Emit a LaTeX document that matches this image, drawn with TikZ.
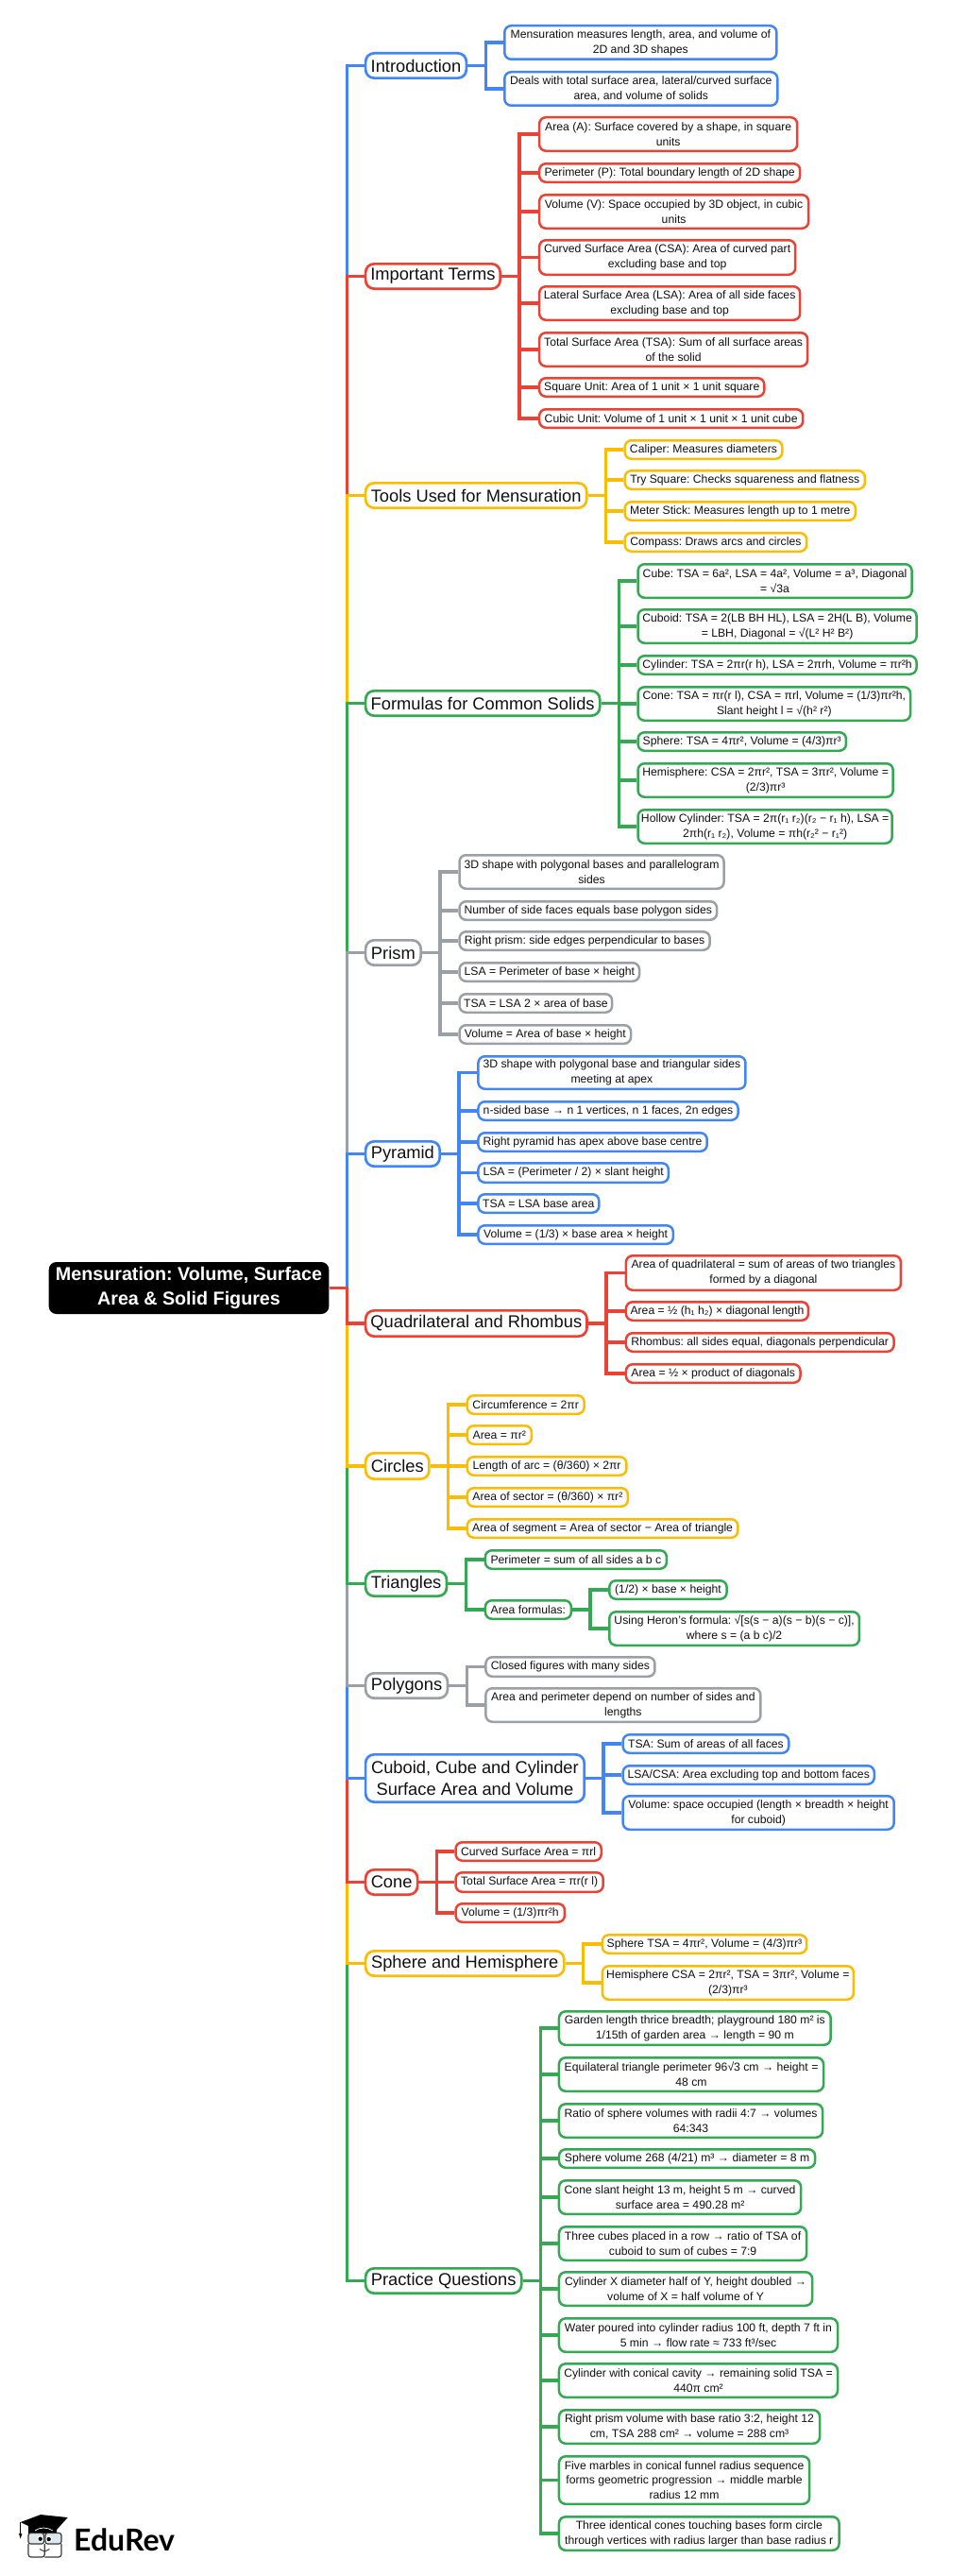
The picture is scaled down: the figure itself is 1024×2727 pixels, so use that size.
\documentclass[tikz,border=0pt]{standalone}
\usepackage{fontspec}
\setmainfont{Liberation Sans}
\newfontfamily\logofont{Lato}
\frenchspacing
\definecolor{cblue}{HTML}{4285F4}
\definecolor{cred}{HTML}{EA4335}
\definecolor{cyel}{HTML}{FBBC04}
\definecolor{cgrn}{HTML}{34A853}
\definecolor{cgry}{HTML}{9AA0A6}
\definecolor{ink}{HTML}{111111}
\definecolor{lens}{HTML}{DCE8EE}
\definecolor{logoline}{HTML}{3A3A3A}
\tikzset{
  leaf/.style={draw=#1,fill=white,line width=2.5pt,rounded corners=7pt,inner sep=0pt,align=center,text=ink,font=\fontsize{12.2}{15.8}\selectfont\frenchspacing},
  head/.style={draw=#1,fill=white,line width=2.7pt,rounded corners=9pt,inner sep=0pt,align=center,text=ink,font=\fontsize{18.3}{23.7}\selectfont\frenchspacing},
  rootbox/.style={fill=black,rounded corners=8pt,inner sep=0pt,align=center,text=white,font=\fontsize{19.7}{25.6}\selectfont\bfseries\frenchspacing},
  conn/.style={draw=#1,line width=3.4pt},
  logostroke/.style={draw=logoline,line width=1.2pt},
}
\newcommand{\lf}[7]{\node[leaf=#6,minimum width={(#4-#2)*.995-2.5},minimum height={#5-#3-2.5}] (#1) at ({340+((#2+#4)/2-340)*.995},{(#3+#5)/2}) {#7};}
\newcommand{\hd}[7]{\node[head=#6,minimum width={(#4-#2)*.995-2.7},minimum height={#5-#3-2.7}] (#1) at ({340+((#2+#4)/2-340)*.995},{(#3+#5)/2}) {#7};}
\newcommand{\lk}[3]{\draw[conn=#3] (#1.east) -- ++(19,0) |- (#2.west);}
\newcommand{\tk}[2]{\draw[conn=#2] (root.east) -- ++(19.1,0) |- (#1.west);}
\begin{document}
\begin{tikzpicture}[x=1pt,y=-1pt]
\useasboundingbox (0,0) rectangle (1024,2727);
\node[rootbox,minimum width=296.6,minimum height=55] (root) at (200,1363.5) {Mensuration: Volume, Surface\\Area \& Solid Figures};
% main branches
\hd{intro}{386}{55}{496}{84}{cblue}{Introduction}
\hd{terms}{386}{278}{532}{307}{cred}{Important Terms}
\hd{tools}{386}{510}{624}{539}{cyel}{Tools Used for Mensuration}
\hd{forms}{386}{730}{638}{759}{cgrn}{Formulas for Common Solids}
\hd{prism}{386}{994}{447.5}{1023}{cgry}{Prism}
\hd{pyr}{386}{1207}{467.6}{1236}{cblue}{Pyramid}
\hd{quad}{386}{1386}{624.3}{1416}{cred}{Quadrilateral and Rhombus}
\hd{circ}{386}{1537}{456.3}{1567}{cyel}{Circles}
\hd{tri}{386}{1662}{475}{1691}{cgrn}{Triangles}
\hd{poly}{386}{1770}{476}{1799}{cgry}{Polygons}
\hd{cub}{386}{1856}{621.5}{1909}{cblue}{Cuboid, Cube and Cylinder\\Surface Area and Volume}
\hd{cone}{386}{1978}{444}{2007}{cred}{Cone}
\hd{sph}{386}{2064}{600}{2093}{cyel}{Sphere and Hemisphere}
\hd{prac}{386}{2400}{554.6}{2429}{cgrn}{Practice Questions}
% trunk
\tk{intro}{cblue}\tk{terms}{cred}\tk{tools}{cyel}\tk{forms}{cgrn}\tk{prism}{cgry}\tk{pyr}{cblue}
\tk{prac}{cgrn}\tk{sph}{cyel}\tk{cone}{cred}\tk{cub}{cblue}\tk{poly}{cgry}\tk{tri}{cgrn}\tk{circ}{cyel}\tk{quad}{cred}
% Introduction
\lf{i1}{534}{26}{826}{64}{cblue}{Mensuration measures length, area, and volume of\\2D and 3D shapes}
\lf{i2}{534}{75}{827}{113}{cblue}{Deals with total surface area, lateral/curved surface\\area, and volume of solids}
\lk{intro}{i1}{cblue}\lk{intro}{i2}{cblue}
% Terms
\lf{t1}{571}{123}{848}{161}{cred}{Area (A): Surface covered by a shape, in square\\units}
\lf{t2}{571}{172}{851}{194}{cred}{Perimeter (P): Total boundary length of 2D shape}
\lf{t3}{571}{205}{860}{243}{cred}{Volume (V): Space occupied by 3D object, in cubic\\units}
\lf{t4}{571}{253}{846}{292}{cred}{Curved Surface Area (CSA): Area of curved part\\excluding base and top}
\lf{t5}{571}{302}{851}{340}{cred}{Lateral Surface Area (LSA): Area of all side faces\\excluding base and top}
\lf{t6}{571}{351}{859}{389}{cred}{Total Surface Area (TSA): Sum of all surface areas\\of the solid}
\lf{t7}{571}{399}{813}{421}{cred}{Square Unit: Area of 1 unit × 1 unit square}
\lf{t8}{571}{432}{854}{454}{cred}{Cubic Unit: Volume of 1 unit × 1 unit × 1 unit cube}
\lk{terms}{t1}{cred}\lk{terms}{t2}{cred}\lk{terms}{t3}{cred}\lk{terms}{t4}{cred}\lk{terms}{t5}{cred}\lk{terms}{t6}{cred}\lk{terms}{t7}{cred}\lk{terms}{t8}{cred}
% Tools
\lf{u1}{662}{465}{832}{487}{cyel}{Caliper: Measures diameters}
\lf{u2}{662}{497}{920}{519}{cyel}{Try Square: Checks squareness and flatness}
\lf{u3}{662}{530}{910}{552}{cyel}{Meter Stick: Measures length up to 1 metre}
\lf{u4}{662}{563}{858}{585}{cyel}{Compass: Draws arcs and circles}
\lk{tools}{u1}{cyel}\lk{tools}{u2}{cyel}\lk{tools}{u3}{cyel}\lk{tools}{u4}{cyel}
% Formulas
\lf{f1}{676}{596}{970}{634}{cgrn}{Cube: TSA = 6a², LSA = 4a², Volume = a³, Diagonal\\= √3a}
\lf{f2}{676}{644}{975}{682}{cgrn}{Cuboid: TSA = 2(LB BH HL), LSA = 2H(L B), Volume\\= LBH, Diagonal = √(L² H² B²)}
\lf{f3}{676}{693}{975}{715}{cgrn}{Cylinder: TSA = 2πr(r h), LSA = 2πrh, Volume = πr²h}
\lf{f4}{676}{726}{968.5}{764}{cgrn}{Cone: TSA = πr(r l), CSA = πrl, Volume = (1/3)πr²h,\\Slant height l = √(h² r²)}
\lf{f5}{676}{774}{900}{796}{cgrn}{Sphere: TSA = 4πr², Volume = (4/3)πr³}
\lf{f6}{676}{807}{950}{845}{cgrn}{Hemisphere: CSA = 2πr², TSA = 3πr², Volume =\\(2/3)πr³}
\lf{f7}{676}{856}{949}{894}{cgrn}{Hollow Cylinder: TSA = 2π(r₁ r₂)(r₂ − r₁ h), LSA =\\2πh(r₁ r₂), Volume = πh(r₂² − r₁²)}
\lk{forms}{f1}{cgrn}\lk{forms}{f2}{cgrn}\lk{forms}{f3}{cgrn}\lk{forms}{f4}{cgrn}\lk{forms}{f5}{cgrn}\lk{forms}{f6}{cgrn}\lk{forms}{f7}{cgrn}
% Prism
\lf{p1}{486}{904}{770}{942}{cgry}{3D shape with polygonal bases and parallelogram\\sides}
\lf{p2}{486}{953}{762.5}{975}{cgry}{Number of side faces equals base polygon sides}
\lf{p3}{486}{985}{755}{1007}{cgry}{Right prism: side edges perpendicular to bases}
\lf{p4}{486}{1018}{680}{1040}{cgry}{LSA = Perimeter of base × height}
\lf{p5}{486}{1051}{651}{1073}{cgry}{TSA = LSA 2 × area of base}
\lf{p6}{486}{1084}{671}{1106}{cgry}{Volume = Area of base × height}
\lk{prism}{p1}{cgry}\lk{prism}{p2}{cgry}\lk{prism}{p3}{cgry}\lk{prism}{p4}{cgry}\lk{prism}{p5}{cgry}\lk{prism}{p6}{cgry}
% Pyramid
\lf{y1}{506}{1117}{793}{1154}{cblue}{3D shape with polygonal base and triangular sides\\meeting at apex}
\lf{y2}{506}{1165}{785}{1187}{cblue}{n-sided base → n 1 vertices, n 1 faces, 2n edges}
\lf{y3}{506}{1198}{752}{1220}{cblue}{Right pyramid has apex above base centre}
\lf{y4}{506}{1230}{711}{1253}{cblue}{LSA = (Perimeter / 2) × slant height}
\lf{y5}{506}{1263}{637}{1285}{cblue}{TSA = LSA base area}
\lf{y6}{506}{1296}{716}{1318}{cblue}{Volume = (1/3) × base area × height}
\lk{pyr}{y1}{cblue}\lk{pyr}{y2}{cblue}\lk{pyr}{y3}{cblue}\lk{pyr}{y4}{cblue}\lk{pyr}{y5}{cblue}\lk{pyr}{y6}{cblue}
% Quadrilateral
\lf{q1}{663.3}{1328}{958.3}{1367}{cred}{Area of quadrilateral = sum of areas of two triangles\\formed by a diagonal}
\lf{q2}{663.3}{1377}{859.8}{1399}{cred}{Area = ½ (h₁ h₂) × diagonal length}
\lf{q3}{663.3}{1410}{950.9}{1432}{cred}{Rhombus: all sides equal, diagonals perpendicular}
\lf{q4}{663.3}{1443}{851.3}{1465}{cred}{Area = ½ × product of diagonals}
\lk{quad}{q1}{cred}\lk{quad}{q2}{cred}\lk{quad}{q3}{cred}\lk{quad}{q4}{cred}
% Circles
\lf{c1}{494.3}{1476}{621.3}{1498}{cyel}{Circumference = 2πr}
\lf{c2}{494.3}{1508}{565.3}{1530}{cyel}{Area = πr²}
\lf{c3}{494.3}{1541}{666.3}{1563}{cyel}{Length of arc = (θ/360) × 2πr}
\lf{c4}{494.3}{1574}{667.8}{1596}{cyel}{Area of sector = (θ/360) × πr²}
\lf{c5}{494.3}{1607}{784.8}{1629}{cyel}{Area of segment = Area of sector − Area of triangle}
\lk{circ}{c1}{cyel}\lk{circ}{c2}{cyel}\lk{circ}{c3}{cyel}\lk{circ}{c4}{cyel}\lk{circ}{c5}{cyel}
% Triangles
\lf{r1}{513.5}{1640}{709}{1662}{cgrn}{Perimeter = sum of all sides a b c}
\lf{r2}{513.5}{1693}{607.5}{1715}{cgrn}{Area formulas:}
\lf{r3}{645.6}{1672}{773}{1694}{cgrn}{(1/2) × base × height}
\lf{r4}{645.6}{1705}{914}{1743}{cgrn}{Using Heron's formula: √[s(s − a)(s − b)(s − c)],\\where s = (a b c)/2}
\lk{tri}{r1}{cgrn}\lk{tri}{r2}{cgrn}\lk{r2}{r3}{cgrn}\lk{r2}{r4}{cgrn}
% Polygons
\lf{g1}{514}{1753}{696.5}{1776}{cgry}{Closed figures with many sides}
\lf{g2}{514}{1786}{809}{1824}{cgry}{Area and perimeter depend on number of sides and\\lengths}
\lk{poly}{g1}{cgry}\lk{poly}{g2}{cgry}
% Cuboid
\lf{b1}{660}{1835}{839}{1857}{cblue}{TSA: Sum of areas of all faces}
\lf{b2}{660}{1868}{930}{1890}{cblue}{LSA/CSA: Area excluding top and bottom faces}
\lf{b3}{660}{1900}{951}{1938}{cblue}{Volume: space occupied (length × breadth × height\\for cuboid)}
\lk{cub}{b1}{cblue}\lk{cub}{b2}{cblue}\lk{cub}{b3}{cblue}
% Cone
\lf{n1}{482}{1949}{639.5}{1971}{cred}{Curved Surface Area = πrl}
\lf{n2}{482}{1981}{641.5}{2004}{cred}{Total Surface Area = πr(r l)}
\lf{n3}{482}{2014}{600.5}{2036}{cred}{Volume = (1/3)πr²h}
\lk{cone}{n1}{cred}\lk{cone}{n2}{cred}\lk{cone}{n3}{cred}
% Sphere
\lf{s1}{638}{2047}{858}{2069}{cyel}{Sphere TSA = 4πr², Volume = (4/3)πr³}
\lf{s2}{638}{2080}{908}{2118}{cyel}{Hemisphere CSA = 2πr², TSA = 3πr², Volume =\\(2/3)πr³}
\lk{sph}{s1}{cyel}\lk{sph}{s2}{cyel}
% Practice
\lf{a1}{592}{2128}{883.6}{2166}{cgrn}{Garden length thrice breadth; playground 180 m² is\\1/15th of garden area → length = 90 m}
\lf{a2}{592}{2177}{876}{2215}{cgrn}{Equilateral triangle perimeter 96√3 cm → height =\\48 cm}
\lf{a3}{592}{2226}{875}{2264}{cgrn}{Ratio of sphere volumes with radii 4:7 → volumes\\64:343}
\lf{a4}{592}{2274}{867}{2296}{cgrn}{Sphere volume 268 (4/21) m³ → diameter = 8 m}
\lf{a5}{592}{2307}{852}{2345}{cgrn}{Cone slant height 13 m, height 5 m → curved\\surface area = 490.28 m²}
\lf{a6}{592}{2356}{858}{2394}{cgrn}{Three cubes placed in a row → ratio of TSA of\\cuboid to sum of cubes = 7:9}
\lf{a7}{592}{2404}{864}{2442}{cgrn}{Cylinder X diameter half of Y, height doubled →\\volume of X = half volume of Y}
\lf{a8}{592}{2453}{891}{2491}{cgrn}{Water poured into cylinder radius 100 ft, depth 7 ft in\\5 min → flow rate ≈ 733 ft³/sec}
\lf{a9}{592}{2501}{891}{2539}{cgrn}{Cylinder with conical cavity → remaining solid TSA =\\440π cm²}
\lf{a10}{592}{2550}{872}{2588}{cgrn}{Right prism volume with base ratio 3:2, height 12\\cm, TSA 288 cm² → volume = 288 cm³}
\lf{a11}{592}{2599}{861}{2652}{cgrn}{Five marbles in conical funnel radius sequence\\forms geometric progression → middle marble\\radius 12 mm}
\lf{a12}{592}{2663}{892.6}{2701}{cgrn}{Three identical cones touching bases form circle\\through vertices with radius larger than base radius r}
\lk{prac}{a1}{cgrn}\lk{prac}{a2}{cgrn}\lk{prac}{a3}{cgrn}\lk{prac}{a4}{cgrn}\lk{prac}{a5}{cgrn}\lk{prac}{a6}{cgrn}\lk{prac}{a7}{cgrn}\lk{prac}{a8}{cgrn}\lk{prac}{a9}{cgrn}\lk{prac}{a10}{cgrn}\lk{prac}{a11}{cgrn}\lk{prac}{a12}{cgrn}
% logo
\node[anchor=west,inner sep=0pt,text=black,font=\logofont\bfseries\fontsize{32}{32}\selectfont] (brand) at (78,2689) {EduRev};
\fill[black] (21.7,2670) -- (43,2662) -- (71.7,2665) -- (60,2678) -- (60,2682) -- (30,2682) -- (30,2674) -- cycle;
\draw[white,line width=.7pt] (37,2679) .. controls (42,2675) and (50,2675) .. (56,2679);
\draw[black,line width=1pt] (21.7,2670) -- (21.7,2683);
\fill[black] (20,2682) -- (23.4,2682) -- (21.7,2687.5) -- cycle;
\filldraw[logostroke,fill=lens,rounded corners=2.5pt] (30,2681.5) rectangle (46.5,2693);
\filldraw[logostroke,fill=lens,rounded corners=2.5pt] (48,2681.5) rectangle (65,2693);
\draw[logostroke,rounded corners=3pt] (30,2693) -- (30,2707) -- (47.3,2707) -- (47.3,2693);
\draw[logostroke,rounded corners=3pt] (47.3,2707) -- (65,2707) -- (65,2693);
\fill[white] (42.7,2687.7) circle (3.2) (51.7,2688) circle (3.2);
\fill[black] (42.7,2687.7) circle (2.2) (51.7,2688) circle (2.2);
\draw[logoline,line width=1pt] (42,2698.5) -- (47.3,2701) -- (52.5,2698.5);
\end{tikzpicture}
\end{document}
